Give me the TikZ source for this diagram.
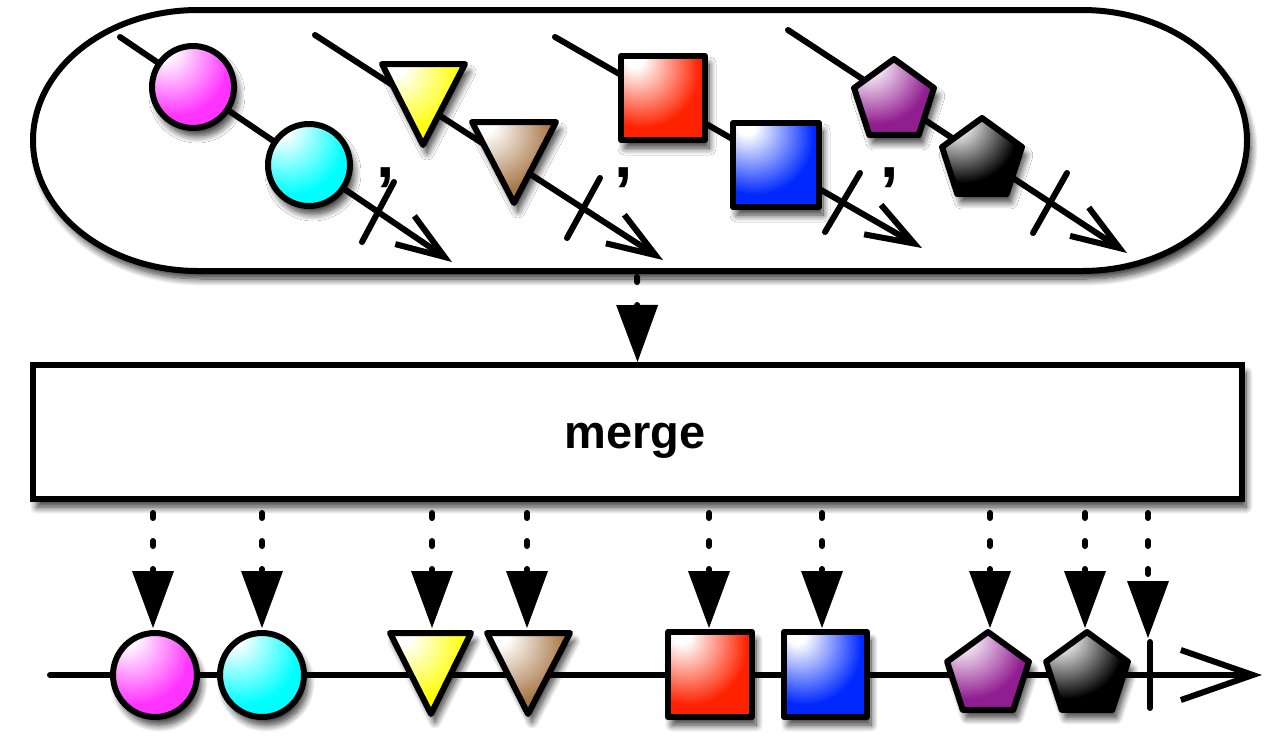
\documentclass[tikz,border=0pt]{standalone}
\usepackage{fontspec}
\setmainfont{Liberation Sans}
\usetikzlibrary{arrows.meta,shadows.blur,calc}

\definecolor{magc}{RGB}{255,51,255}
\definecolor{cyanc}{RGB}{0,255,255}
\definecolor{yelc}{RGB}{255,255,0}
\definecolor{brownc}{RGB}{168,120,72}
\definecolor{redc}{RGB}{255,34,0}
\definecolor{bluec}{RGB}{0,40,255}
\definecolor{purpc}{RGB}{145,30,145}
\definecolor{blkc}{RGB}{0,0,0}

\colorlet{shapecol}{red}
\pgfdeclareradialshading[shapecol]{gloss}{\pgfpoint{-18bp}{24bp}}{%
  color(0bp)=(white); color(5bp)=(white); color(34bp)=(shapecol);
  color(56bp)=(shapecol); color(76bp)=(shapecol!60!black);
  color(105bp)=(shapecol!15!black)}

\tikzset{
  glosscol/.code={\colorlet{shapecol}{#1}},
  shadowed/.style={blur shadow={shadow xshift=4pt, shadow yshift=-8pt,
      shadow blur radius=7pt, shadow blur steps=12, shadow opacity=80}},
  marble/.style={glosscol=#1, shading=gloss, draw=black, line width=6pt,
      line join=round, shadowed},
  flow/.style={line width=6pt, line cap=round,
      -{Straight Barb[length=48pt,width=34pt]}},
  endtick/.style={line width=6pt, line cap=round},
  commatext/.style={font=\fontsize{66}{72}\selectfont\bfseries, anchor=base,
      inner sep=0pt},
  dotarrow/.style={line width=6pt, line cap=round, dash pattern=on 5pt off 23pt,
      -{Triangle[length=57pt,width=42pt,fill=black,line width=0pt]}},
}

\begin{document}
\begin{tikzpicture}[x=1pt,y=-1pt]
\useasboundingbox (0,0) rectangle (1280,740);

% ---------- container of streams ----------
\draw[shadowed, fill=white, line width=6pt]
  (198,10) -- (1082,10)
  arc[start angle=-90, end angle=90, x radius=165, y radius=130.5]
  -- (198,271)
  arc[start angle=90, end angle=270, x radius=165, y radius=130.5] -- cycle;
\coordinate (stadbot) at (637,274);

% ---------- inner stream lines ----------
\draw[flow] (120,37) -- (452,262);
\draw[flow] (315,35) -- (663,260);
\draw[flow] (555,37) -- (922,248);
\draw[flow] (788,30) -- (1127,253);

\draw[endtick] (362,242) -- (394,182);
\draw[endtick] (567,238) -- (600,178);
\draw[endtick] (825,232) -- (860,173);
\draw[endtick] (1033,233) -- (1067,173);

% ---------- inner marbles ----------
\path[marble=magc] (193,87) circle[radius=41];
\path[marble=cyanc] (309,165) circle[radius=41];
\path[marble=yelc] (382,64) -- (465,64) -- (423,145) -- cycle;
\path[marble=brownc] (472,122) -- (556,122) -- (514,203) -- cycle;
\path[marble=redc] (621,56) rectangle (705,140);
\path[marble=bluec] (733,123) rectangle (819,207);
\path[marble=purpc] (894,101) +(-90:42) -- +(-18:42) -- +(54:42) -- +(126:42) -- +(198:42) -- cycle;
\path[marble=blkc] (982,160) +(-90:42) -- +(-18:42) -- +(54:42) -- +(126:42) -- +(198:42) -- cycle;

\node[commatext] (c1) at (386,177) {,};
\node[commatext] (c2) at (624,177) {,};
\node[commatext] (c3) at (890,177) {,};

% ---------- merge box ----------
\node[draw, line width=6pt, fill=white, shadowed, minimum width=1209pt,
      minimum height=134pt, inner sep=0pt] (merge) at (637.5,432) {};
\node[font=\fontsize{47}{54}\selectfont\bfseries, anchor=base, inner sep=0pt]
  (mlabel) at (635,448) {merge};

\draw[dotarrow, shorten <=3pt] (stadbot) -- (merge.north);

% ---------- output stream ----------
\draw[line width=6pt, line cap=round, -{Straight Barb[length=72pt,width=50pt]}]
  (50,675) -- (1262,675);

\path[marble=magc] (155,675) circle[radius=42];
\path[marble=cyanc] (262,675) circle[radius=42];
\path[marble=yelc] (390,633) -- (471,633) -- (431,714) -- cycle;
\path[marble=brownc] (487,633) -- (570,633) -- (528,714) -- cycle;
\path[marble=redc] (668,632) rectangle (752,717);
\path[marble=bluec] (784,632) rectangle (867,717);
\path[marble=purpc] (988,675) +(-90:43) -- +(-18:43) -- +(54:43) -- +(126:43) -- +(198:43) -- cycle;
\path[marble=blkc] (1087,675) +(-90:43) -- +(-18:43) -- +(54:43) -- +(126:43) -- +(198:43) -- cycle;
\draw[endtick] (1150,642) -- (1150,708);

% ---------- emission connectors ----------
\coordinate (t1) at (153,628);
\coordinate (t2) at (262,628);
\coordinate (t3) at (432,628);
\coordinate (t4) at (527,628);
\coordinate (t5) at (709,628);
\coordinate (t6) at (822,628);
\coordinate (t7) at (990,628);
\coordinate (t8) at (1085,628);
\coordinate (t9) at (1148,638);
\foreach \t in {t1,t2,t3,t4,t5,t6,t7,t8,t9}
  \draw[dotarrow, shorten <=11pt] (merge.south -| \t) -- (\t);
\end{tikzpicture}
\end{document}
